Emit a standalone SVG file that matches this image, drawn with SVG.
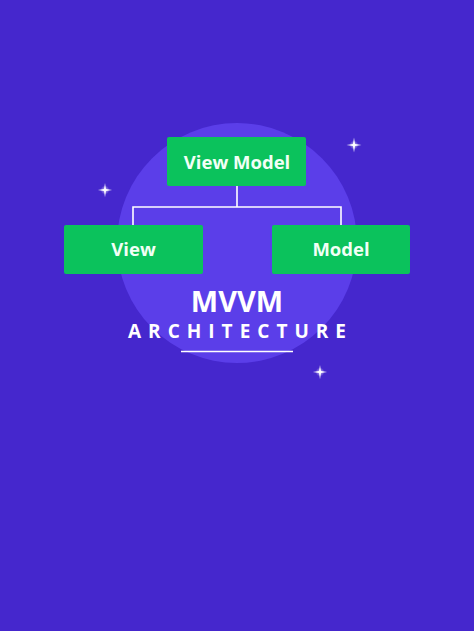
<svg xmlns="http://www.w3.org/2000/svg" width="474" height="631" viewBox="0 0 474 631">
  <defs>
    <style>
      .box { fill: #0bc25c; }
      .lbl { font-family: "Open Sans", "Liberation Sans", sans-serif; font-weight: 700; fill: #f2fff6; text-anchor: middle; }
      .conn { stroke: #ffffff; stroke-width: 1.6; fill: none; }
      .spark { fill: #ffffff; }
    </style>
    <radialGradient id="glow">
      <stop offset="0" stop-color="#ffffff" stop-opacity="0.7"/>
      <stop offset="1" stop-color="#ffffff" stop-opacity="0"/>
    </radialGradient>
    <path id="star" d="M0,-7.5 L1,-1 L7.5,0 L1,1 L0,7.5 L-1,1 L-7.5,0 L-1,-1 Z"/>
  </defs>
  <rect x="0" y="0" width="474" height="631" fill="#4527cd"/>
  <circle cx="237" cy="243" r="120" fill="#5b3ee9"/>

  <g id="sparkles">
    <circle cx="354" cy="145" r="4.5" fill="url(#glow)"/>
    <use href="#star" class="spark" transform="translate(354 145)"/>
    <circle cx="105" cy="190" r="4.5" fill="url(#glow)"/>
    <use href="#star" class="spark" transform="translate(105 190) scale(0.95)"/>
    <circle cx="320" cy="372" r="4.5" fill="url(#glow)"/>
    <use href="#star" class="spark" transform="translate(320 372) scale(0.95)"/>
  </g>

  <g id="connectors">
    <path class="conn" d="M237,186 V207 M133,225 V207 H341 V225"/>
  </g>

  <g id="viewmodel">
    <rect class="box" x="167" y="137" width="139" height="49" rx="2"/>
    <text class="lbl" x="237" y="169" font-size="18.5">View Model</text>
  </g>
  <g id="view">
    <rect class="box" x="64" y="225" width="139" height="49" rx="2"/>
    <text class="lbl" x="133.5" y="256" font-size="18.5">View</text>
  </g>
  <g id="model">
    <rect class="box" x="272" y="225" width="138" height="49" rx="2"/>
    <text class="lbl" x="341" y="256" font-size="18.5">Model</text>
  </g>

  <g id="title">
    <text class="lbl" x="237" y="312" font-size="29" style="fill:#ffffff">MVVM</text>
    <text class="lbl" x="237" y="338" font-size="19" textLength="218" lengthAdjust="spacing" style="fill:#ffffff">ARCHITECTURE</text>
    <line x1="181" y1="351.5" x2="293" y2="351.5" stroke="#ffffff" stroke-width="1.6"/>
  </g>
</svg>
